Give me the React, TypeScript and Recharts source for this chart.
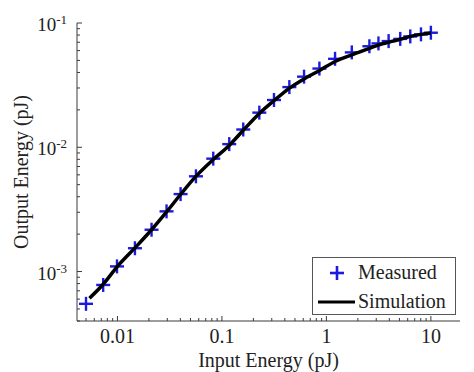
import { ComposedChart, Scatter, XAxis, YAxis, Legend } from "recharts";

// measured points (input energy pJ -> output energy pJ)
const measuredX = [0.005, 0.0073, 0.0099, 0.0147, 0.0212, 0.0295, 0.0402, 0.0564, 0.0826, 0.1175, 0.16, 0.228, 0.315, 0.442, 0.611, 0.857, 1.21, 1.75, 2.58, 3.15, 3.94, 5.09, 6.35, 8.04, 10.0];
const measuredY = [5.5e-4, 7.8e-4, 1.1e-3, 1.54e-3, 2.17e-3, 3.05e-3, 4.2e-3, 5.84e-3, 8.1e-3, 1.06e-2, 1.39e-2, 1.9e-2, 2.4e-2, 3.05e-2, 3.7e-2, 4.3e-2, 5.15e-2, 5.8e-2, 6.5e-2, 6.85e-2, 7.15e-2, 7.45e-2, 7.8e-2, 8.1e-2, 8.35e-2];

// simulation curve
const simX = [0.0054, 0.0073, 0.01, 0.0147, 0.0212, 0.0295, 0.04, 0.056, 0.083, 0.118, 0.16, 0.228, 0.315, 0.44, 0.61, 0.86, 1.21, 1.75, 2.58, 3.15, 3.94, 5.09, 6.35, 8.04, 10.0];
const simY = [6.1e-4, 7.9e-4, 1.1e-3, 1.55e-3, 2.17e-3, 3.02e-3, 4.15e-3, 5.8e-3, 8.0e-3, 1.04e-2, 1.37e-2, 1.87e-2, 2.37e-2, 2.98e-2, 3.55e-2, 4.15e-2, 4.9e-2, 5.55e-2, 6.25e-2, 6.65e-2, 7.0e-2, 7.4e-2, 7.8e-2, 8.1e-2, 8.3e-2];

const xMajor = [0.01, 0.1, 1, 10];
const xLabels = ["0.01", "0.1", "1", "10"];
const xMinor = [0.005, 0.006, 0.007, 0.008, 0.009, 0.02, 0.03, 0.04, 0.05, 0.06, 0.07, 0.08, 0.09, 0.2, 0.3, 0.4, 0.5, 0.6, 0.7, 0.8, 0.9, 2, 3, 4, 5, 6, 7, 8, 9];
const yMajor = [0.001, 0.01, 0.1];
const yExp = ["-3", "-2", "-1"];
const yMinor = [0.0004, 0.0005, 0.0006, 0.0007, 0.0008, 0.0009, 0.002, 0.003, 0.004, 0.005, 0.006, 0.007, 0.008, 0.009, 0.02, 0.03, 0.04, 0.05, 0.06, 0.07, 0.08, 0.09];

const seriesNames = ["Measured", "Simulation"];

const measured = measuredX.map((x, i) => ({ x, y: measuredY[i] }));
const simulation = simX.map((x, i) => ({ x, y: simY[i] }));

const FONT = "Liberation Serif, DejaVu Serif, serif";
const BLUE = "#1a1ae0";
const AXIS = "#3a3a3a";
const TEXT = "#222";

const near = (a: number, b: number) => Math.abs(a - b) / b < 1e-6;

function XTick(props: any) {
  const { x, y, payload } = props;
  const idx = xMajor.findIndex((v) => near(payload.value, v));
  const len = idx >= 0 ? 5 : 3;
  return (
    <g>
      <line x1={x} x2={x} y1={y} y2={y - len} stroke={AXIS} strokeWidth={1} />
      {idx >= 0 && (
        <text x={x} y={y + 22} textAnchor="middle" style={{ fontFamily: FONT, fontSize: 20 }} fill={TEXT}>
          {xLabels[idx]}
        </text>
      )}
    </g>
  );
}

function YTick(props: any) {
  const { x, y, payload } = props;
  const idx = yMajor.findIndex((v) => near(payload.value, v));
  const len = idx >= 0 ? 5 : 3;
  return (
    <g>
      <line x1={x} x2={x + len} y1={y} y2={y} stroke={AXIS} strokeWidth={1} />
      {idx >= 0 && (
        <text x={x - 10} y={y + 8} textAnchor="end" style={{ fontFamily: FONT, fontSize: 19 }} fill={TEXT}>
          <tspan>10</tspan>
          <tspan dy={-7} style={{ fontSize: 13 }}>{yExp[idx]}</tspan>
        </text>
      )}
    </g>
  );
}

function PlusMarker(props: any) {
  const { cx, cy } = props;
  if (cx == null || cy == null) return null;
  const h = 7;
  return (
    <g stroke={BLUE} strokeWidth={2.4}>
      <line x1={cx - h} x2={cx + h} y1={cy} y2={cy} />
      <line x1={cx} x2={cx} y1={cy - h} y2={cy + h} />
    </g>
  );
}

function NoDot() {
  return null;
}

function LegendBox() {
  return (
    <div
      style={{
        width: 144,
        height: 58,
        boxSizing: "border-box",
        border: "1px solid #555",
        background: "#fff",
        position: "relative",
      }}
    >
      <svg width={144} height={58} style={{ position: "absolute", left: -1, top: -1 }}>
        <g stroke={BLUE} strokeWidth={2.6}>
          <line x1={18} x2={32} y1={16} y2={16} />
          <line x1={25} x2={25} y1={9} y2={23} />
        </g>
        <line x1={6} x2={43} y1={45} y2={45} stroke="#000" strokeWidth={3} />
        <text x={46} y={22} style={{ fontFamily: FONT, fontSize: 20 }} fill={TEXT}>{seriesNames[0]}</text>
        <text x={46} y={51} style={{ fontFamily: FONT, fontSize: 20 }} fill={TEXT}>{seriesNames[1]}</text>
      </svg>
    </div>
  );
}

export default function App() {
  return (
    <div style={{ position: "fixed", left: 0, top: 0, width: 474, height: 372, background: "#fff", fontFamily: FONT }}>
      <ComposedChart width={474} height={372} margin={{ top: 23, right: 14, left: 0, bottom: 0 }} style={{ fontFamily: FONT }}>
        <XAxis
          type="number"
          dataKey="x"
          scale="log"
          domain={[0.0041, 19]}
          allowDataOverflow
          ticks={[...xMinor, ...xMajor].sort((a, b) => a - b)}
          interval={0}
          tick={<XTick />}
          tickLine={false}
          tickSize={0}
          tickMargin={0}
          height={51}
          axisLine={{ stroke: AXIS, strokeWidth: 1 }}
          label={{ value: "Input Energy (pJ)", position: "insideBottom", offset: 5, style: { fontFamily: FONT, fontSize: 20 }, fill: TEXT }}
        />
        <YAxis
          type="number"
          dataKey="y"
          scale="log"
          domain={[0.0004, 0.1]}
          allowDataOverflow
          ticks={[...yMinor, ...yMajor].sort((a, b) => a - b)}
          interval={0}
          tick={<YTick />}
          tickLine={false}
          tickSize={0}
          tickMargin={0}
          width={77}
          axisLine={{ stroke: AXIS, strokeWidth: 1 }}
          label={{ value: "Output Energy (pJ)", angle: -90, position: "center", dx: -18, style: { fontFamily: FONT, fontSize: 20 }, fill: TEXT }}
        />
        <Scatter name={seriesNames[0]} data={measured} shape={<PlusMarker />} fill={BLUE} isAnimationActive={false} />
        <Scatter
          name={seriesNames[1]}
          data={simulation}
          shape={<NoDot />}
          line={{ stroke: "#000", strokeWidth: 3.5 }}
          lineJointType="monotoneX"
          fill="#000"
          isAnimationActive={false}
        />
        <Legend
          layout="vertical"
          align="center"
          verticalAlign="middle"
          wrapperStyle={{ position: "absolute", left: 312, top: 257, width: 144, height: 58 }}
          content={() => <LegendBox />}
        />
      </ComposedChart>
    </div>
  );
}
